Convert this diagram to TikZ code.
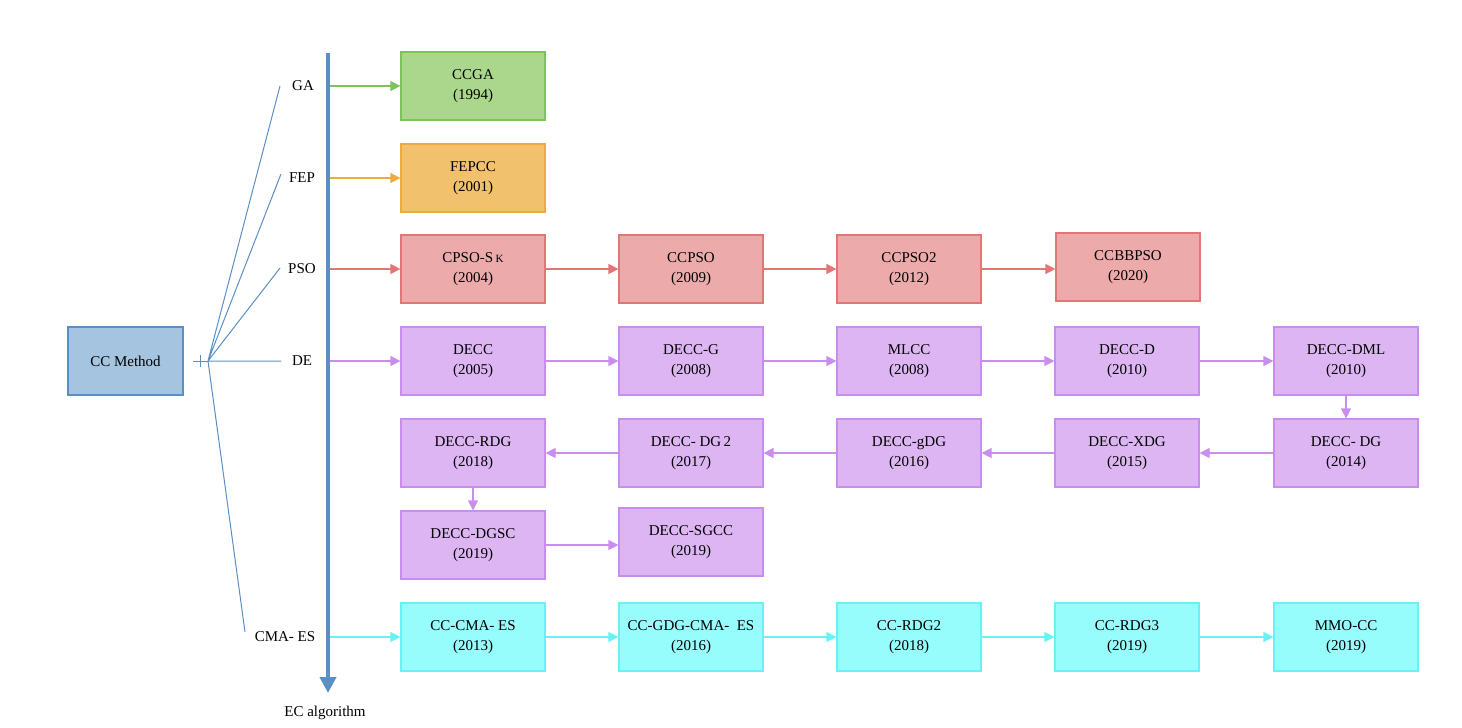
\documentclass[tikz,border=0pt]{standalone}
\usepackage{fontspec}
\setmainfont{Liberation Serif}
\usetikzlibrary{arrows.meta}
\definecolor{gF}{HTML}{ABD78C}\definecolor{gD}{HTML}{7DC35A}
\definecolor{oF}{HTML}{F1C16E}\definecolor{oD}{HTML}{EEAA40}
\definecolor{rF}{HTML}{EDAAAA}\definecolor{rD}{HTML}{E27575}
\definecolor{pF}{HTML}{DDB5F3}\definecolor{pD}{HTML}{C98DEE}
\definecolor{cF}{HTML}{97FDFC}\definecolor{cD}{HTML}{66F2F7}
\definecolor{bF}{HTML}{A5C4E0}\definecolor{bD}{HTML}{5A8FC4}
\begin{document}
\begin{tikzpicture}[x=0.5pt,y=-0.5pt,font=\fontsize{7.5}{10}\selectfont,
 box/.style={draw,line width=0.6pt,minimum width=72pt,minimum height=34pt,align=center,inner sep=0pt},
 G/.style={box,fill=gF,draw=gD}, O/.style={box,fill=oF,draw=oD},
 R/.style={box,fill=rF,draw=rD}, P/.style={box,fill=pF,draw=pD}, C/.style={box,fill=cF,draw=cD},
 ar/.style={-{Triangle[length=5pt,width=5pt]},line width=0.6pt},
 lab/.style={inner sep=1pt},
 fan/.style={draw=bD,line width=0.5pt}]
\useasboundingbox (0,0) rectangle (1462,728);
\node[box,fill=bF,draw=bD,minimum width=57.5pt] (cc) at (125.5,361) {CC Method};
\coordinate (f) at (208,361);
\draw[fan] (193,361) -- (f) (200,355) -- (200,367);
\node[lab] (ga) at (303,86) {GA};
\node[lab] (fep) at (302,178) {FEP};
\node[lab] (pso) at (302,269) {PSO};
\node[lab] (de) at (302,361) {DE};
\node[lab] (cma) at (285,637) {CMA- ES};
\coordinate (ga1) at (280,86); \coordinate (fep1) at (281,174); \coordinate (pso1) at (280,268);
\coordinate (de1) at (281,361); \coordinate (cma1) at (245,632);
\draw[fan] (f) -- (ga1) (f) -- (fep1) (f) -- (pso1) (f) -- (de1) (f) -- (cma1);
\coordinate (top) at (328,53);
\node[lab] (ec) at (325,713) {EC algorithm};
\draw[draw=bD,line width=2.2pt,-{Triangle[length=8pt,width=8pt]}] (top) -- (328,693);
\coordinate (ag) at (330,86); \coordinate (af) at (330,178); \coordinate (ap) at (330,269);
\coordinate (ad) at (330,361); \coordinate (ac) at (330,637);
% boxes
\node[G] (b1) at (473,86) {CCGA\\(1994)};
\node[O] (b2) at (473,178) {FEPCC\\(2001)};
\node[R] (p1) at (473,269) {CPSO-S\,{\fontsize{5.5}{6}\selectfont K}\\(2004)};
\node[R] (p2) at (691,269) {CCPSO\\(2009)};
\node[R] (p3) at (909,269) {CCPSO2\\(2012)};
\node[R] (p4) at (1128,267) {CCBBPSO\\(2020)};
\node[P] (d1) at (473,361) {DECC\\(2005)};
\node[P] (d2) at (691,361) {DECC-G\\(2008)};
\node[P] (d3) at (909,361) {MLCC\\(2008)};
\node[P] (d4) at (1127,361) {DECC-D\\(2010)};
\node[P] (d5) at (1346,361) {DECC-DML\\(2010)};
\node[P] (d6) at (1346,453) {DECC- DG\\(2014)};
\node[P] (d7) at (1127,453) {DECC-XDG\\(2015)};
\node[P] (d8) at (909,453) {DECC-gDG\\(2016)};
\node[P] (d9) at (691,453) {DECC- DG\,2\\(2017)};
\node[P] (d10) at (473,453) {DECC-RDG\\(2018)};
\node[P] (d11) at (473,545) {DECC-DGSC\\(2019)};
\node[P] (d12) at (691,542) {DECC-SGCC\\(2019)};
\node[C] (c1) at (473,637) {CC-CMA- ES\\(2013)};
\node[C] (c2) at (691,637) {CC-GDG-CMA-\ \ ES\\(2016)};
\node[C] (c3) at (909,637) {CC-RDG2\\(2018)};
\node[C] (c4) at (1127,637) {CC-RDG3\\(2019)};
\node[C] (c5) at (1346,637) {MMO-CC\\(2019)};
% arrows
\draw[ar,gD] (ag) -- (b1);
\draw[ar,oD] (af) -- (b2);
\draw[ar,rD] (ap) -- (p1); \draw[ar,rD] (p1) -- (p2); \draw[ar,rD] (p2) -- (p3); \draw[ar,rD] (p3) -- (p4.west|-p3);
\draw[ar,pD] (ad) -- (d1); \draw[ar,pD] (d1) -- (d2); \draw[ar,pD] (d2) -- (d3); \draw[ar,pD] (d3) -- (d4); \draw[ar,pD] (d4) -- (d5);
\draw[ar,pD] (d5) -- (d6); \draw[ar,pD] (d6) -- (d7); \draw[ar,pD] (d7) -- (d8); \draw[ar,pD] (d8) -- (d9); \draw[ar,pD] (d9) -- (d10);
\draw[ar,pD] (d10) -- (d11); \draw[ar,pD] (d11) -- (d12.west|-d11);
\draw[ar,cD] (ac) -- (c1); \draw[ar,cD] (c1) -- (c2); \draw[ar,cD] (c2) -- (c3); \draw[ar,cD] (c3) -- (c4); \draw[ar,cD] (c4) -- (c5);
\end{tikzpicture}
\end{document}
